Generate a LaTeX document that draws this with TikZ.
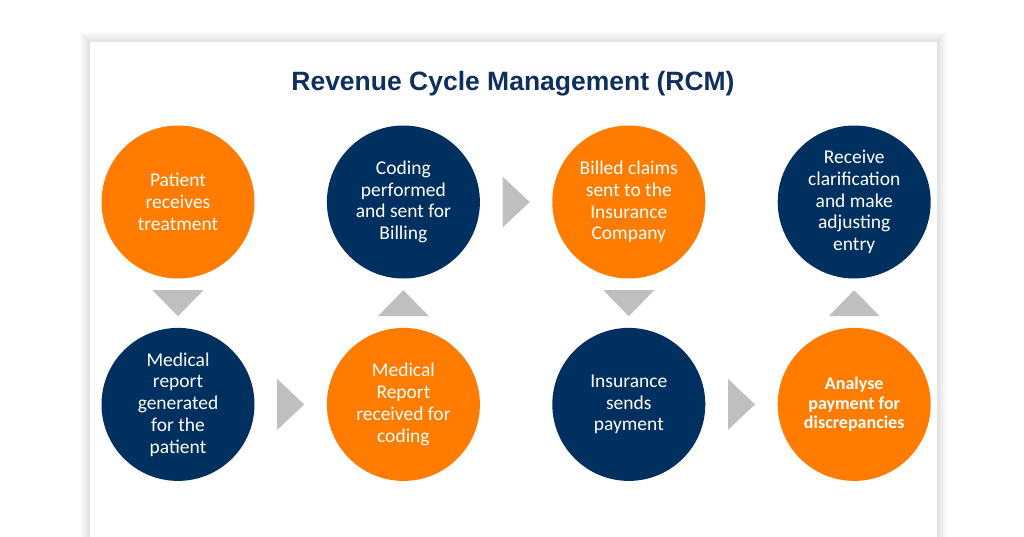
\documentclass[tikz,border=0pt]{standalone}
\usepackage{fontspec}
\setmainfont{Carlito}
\newfontfamily\titlefont{Liberation Sans}
\usetikzlibrary{positioning,calc}

\definecolor{rcmorange}{HTML}{FF7C00}
\definecolor{rcmnavy}{HTML}{00305F}
\definecolor{rcmtitle}{HTML}{0F2F5C}
\definecolor{rcmgray}{HTML}{BFBFBF}

\begin{document}
\begin{tikzpicture}[
  x=1pt,y=-1pt,
  every node/.style={font=\fontsize{19.5}{21.7}\selectfont},
  stage/.style={circle,minimum size=153pt,inner sep=0pt,align=center,text=white},
  orange stage/.style={stage,fill=rcmorange},
  navy stage/.style={stage,fill=rcmnavy},
  tri down/.pic={\fill[rcmgray] (-25.5,-13) -- (25.5,-13) -- (0,13) -- cycle;},
  tri up/.pic={\fill[rcmgray] (-25.5,13) -- (25.5,13) -- (0,-13) -- cycle;},
  tri right/.pic={\fill[rcmgray] (-13.5,-25.5) -- (13.5,0) -- (-13.5,25.5) -- cycle;},
  ]

  \useasboundingbox (0,0) rectangle (1024,536);
  \fill[white] (0,0) rectangle (1024,536);

  % card with soft shadow
  \foreach \i in {1,...,10}
    \fill[black,opacity=0.011] (90-\i,42-\i) rectangle (937+\i,560);
  \fill[white] (90,42) rectangle (937,560);

  \node[font=\titlefont\bfseries\fontsize{26.5}{30}\selectfont,text=rcmtitle]
    (rcm-title) at (513,84) {Revenue Cycle Management (RCM)};

  % top row
  \node[orange stage] (patient) at (178,202) {Patient\\receives\\treatment};
  \node[navy stage,right=72pt of patient] (coding) {Coding\\performed\\and sent for\\Billing};
  \node[orange stage,right=72pt of coding] (billed) {Billed claims\\sent to the\\Insurance\\Company};
  \node[navy stage,right=72pt of billed] (clarify) {Receive\\clarification\\and make\\adjusting\\entry};

  % bottom row
  \node[navy stage,below=49pt of patient] (medrep) {Medical\\report\\generated\\for the\\patient};
  \node[orange stage,right=72pt of medrep] (medrec) {Medical\\Report\\received for\\coding};
  \node[navy stage,right=72pt of medrec] (inspay) {Insurance\\sends\\payment};
  \node[orange stage,right=72pt of inspay,font=\bfseries\fontsize{18}{19.5}\selectfont]
    (analyse) {Analyse\\payment for\\discrepancies};

  \pic at ($(patient)!0.5!(medrep)$) {tri down};
  \pic at ($(medrep)!0.5!(medrec)$) {tri right};
  \pic at ($(medrec)!0.5!(coding)$) {tri up};
  \pic at ($(coding)!0.5!(billed)$) {tri right};
  \pic at ($(billed)!0.5!(inspay)$) {tri down};
  \pic at ($(inspay)!0.5!(analyse)$) {tri right};
  \pic at ($(analyse)!0.5!(clarify)$) {tri up};

\end{tikzpicture}
\end{document}
